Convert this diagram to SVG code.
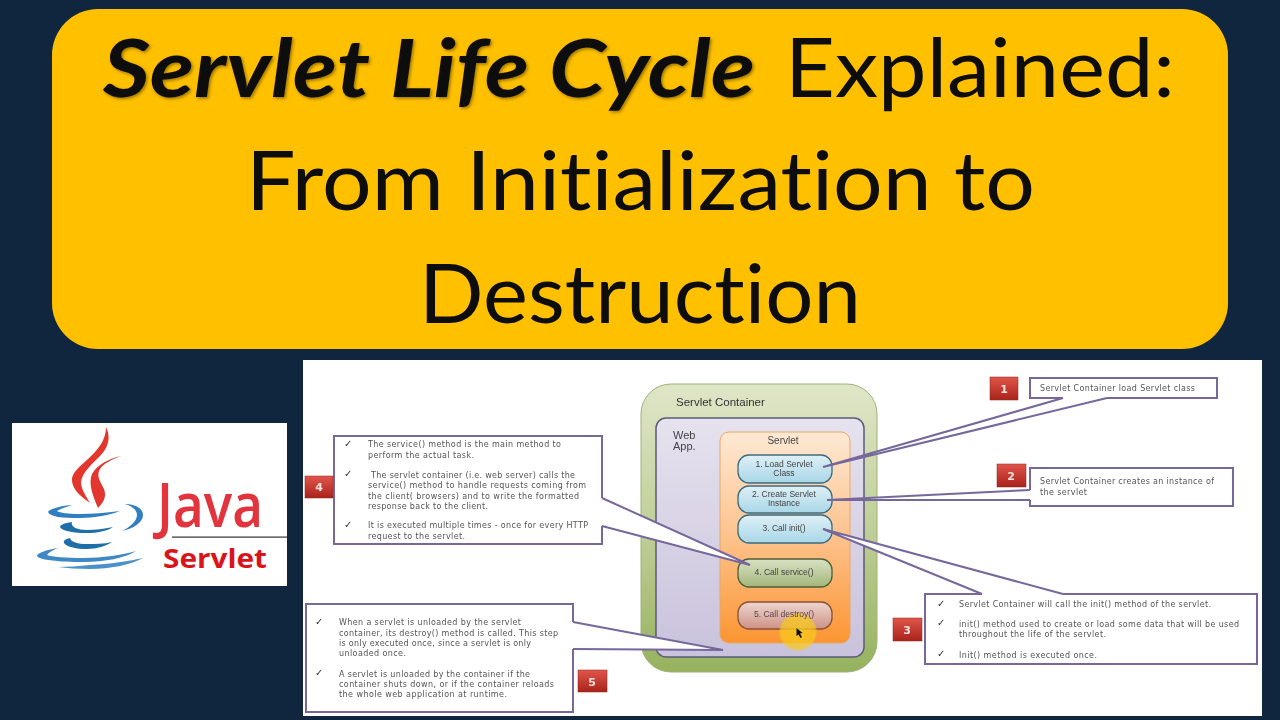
<svg xmlns="http://www.w3.org/2000/svg" width="1280" height="720" viewBox="0 0 1280 720">
<defs>
<linearGradient id="gO" x1="0" y1="0" x2="0" y2="1"><stop offset="0" stop-color="#dfe6c8"/><stop offset="0.5" stop-color="#c0cf98"/><stop offset="1" stop-color="#96b25e"/></linearGradient>
<linearGradient id="gW" x1="0" y1="0" x2="0" y2="1"><stop offset="0" stop-color="#e6e2ee"/><stop offset="1" stop-color="#c9c2dc"/></linearGradient>
<linearGradient id="gS" x1="0" y1="0" x2="0" y2="1"><stop offset="0" stop-color="#fde9d4"/><stop offset="0.5" stop-color="#fdc28c"/><stop offset="1" stop-color="#fb9532"/></linearGradient>
<linearGradient id="gB" x1="0" y1="0" x2="0" y2="1"><stop offset="0" stop-color="#dff0f6"/><stop offset="1" stop-color="#a8d6e8"/></linearGradient>
<linearGradient id="gG" x1="0" y1="0" x2="0" y2="1"><stop offset="0" stop-color="#d9e2c4"/><stop offset="1" stop-color="#a3b67a"/></linearGradient>
<linearGradient id="gR" x1="0" y1="0" x2="0" y2="1"><stop offset="0" stop-color="#eed6cf"/><stop offset="1" stop-color="#cd9184"/></linearGradient>
<linearGradient id="gBad" x1="0" y1="0" x2="0" y2="1"><stop offset="0" stop-color="#e0564a"/><stop offset="1" stop-color="#a9231c"/></linearGradient>
<radialGradient id="gH"><stop offset="0" stop-color="#f8c81e" stop-opacity="0.85"/><stop offset="0.88" stop-color="#f8c81e" stop-opacity="0.72"/><stop offset="1" stop-color="#f8c81e" stop-opacity="0.3"/></radialGradient>
<filter id="soft" x="-5%" y="-5%" width="110%" height="110%"><feGaussianBlur stdDeviation="0.35"/></filter>
<filter id="ts" x="-5%" y="-10%" width="110%" height="125%"><feDropShadow dx="1.500" dy="1.500" stdDeviation="1.500" flood-color="#000" flood-opacity="0.4"/></filter>
</defs>
<style>
.t{font-family:Lato,"Open Sans",sans-serif;font-size:81px;fill:#0d0d0d;font-variant-ligatures:none}
.d{font-family:"DejaVu Sans",sans-serif;font-size:8px;fill:#555}
.c{font-family:"DejaVu Sans",sans-serif;font-size:8px;fill:#555}
.k{font-family:"DejaVu Sans",sans-serif;font-size:10px;fill:#333}
.l{font-family:"Liberation Sans",Arial,sans-serif;fill:#444;font-size:8.5px;text-anchor:middle}
.box{fill:#fff;stroke:#77689c;stroke-width:2}
.gap{fill:#fff}
.tail{fill:none;stroke:#77689c;stroke-width:2;stroke-linejoin:miter}
.bad{fill:url(#gBad);stroke:#8f2a22;stroke-width:0.5}
.bt{font-family:"DejaVu Sans",sans-serif;font-size:11px;font-weight:bold;fill:#f3e2dc;text-anchor:middle}
.n{stroke-width:1.300;rx:11px;ry:11px}
</style>
<rect width="1280" height="720" fill="#10263f"/>
<g id="title">
<rect x="52" y="9" width="1176" height="340" rx="46" ry="46" fill="#ffc000"/>
<text class="t" x="103" y="97" font-weight="bold" font-style="italic" textLength="652" lengthAdjust="spacingAndGlyphs" filter="url(#ts)">Servlet Life Cycle</text>
<text class="t" x="785" y="97" textLength="390" lengthAdjust="spacingAndGlyphs">Explained:</text>
<text class="t" x="246" y="210" textLength="789" lengthAdjust="spacingAndGlyphs">From Initialization to</text>
<text class="t" x="419" y="323" textLength="442" lengthAdjust="spacingAndGlyphs">Destruction</text>
</g>
<g id="logo">
<rect x="12" y="423" width="275" height="163" fill="#fff"/>
<path d="M106 427C106 440 98 450 88 459C78 468 71 474 72 481C73 491 82 497 90 503C86 496 81 489 81 482C82 473 91 465 99 457C107 449 112 439 106 427Z" fill="#e2362e"/>
<path d="M121 456C108 459 97 465 92 474C88 484 93 496 98 508C103 503 107 497 104 489C100 481 96 476 100 469C104 463 113 459 121 456Z" fill="#e2362e"/>
<path d="M72 505C60 506 49 509 48 512C50 517 62 518 80 518C95 518 110 515 120 511C105 513 92 514 80 514C68 514 60 513 57 511C60 509 66 507 72 505Z" fill="#2f7fc1"/>
<path d="M125 504C136 504 143 509 143 515C143 523 132 529 122 531C130 527 137 521 137 515C137 510 132 506 125 504Z" fill="#2f7fc1"/>
<path d="M72 522C64 523 60 525 60 527C62 531 74 533 87 533C97 533 107 531 113 527C104 529 95 530 87 530C78 530 70 527 72 522Z" fill="#1e6fa8"/>
<path d="M70 538C65 539 63 541 64 543C67 547 77 549 87 549C97 549 106 546 112 542C104 544 95 544 87 544C78 544 71 542 70 538Z" fill="#1e6fa8"/>
<path d="M58 548C46 550 37 553 37 556C39 560 60 562 83 562C105 562 125 558 136 551C122 555 103 558 83 558C66 558 52 557 47 555C49 552 53 550 58 548Z" fill="#3f88c4"/>
<path d="M143 558C130 565 110 569 90 569C78 569 67 568 58 567C68 567 79 566 90 565C110 564 130 561 143 558Z" fill="#4b90c8"/>
<text x="157" y="527" font-family="'Open Sans',sans-serif" font-size="62" font-weight="600" fill="#e2343c" textLength="106" lengthAdjust="spacingAndGlyphs">Java</text>
<rect x="172" y="536.5" width="115" height="1.2" fill="#333"/>
<text x="163" y="568" font-family="'Open Sans',sans-serif" font-size="27" font-weight="bold" fill="#d9141b" textLength="104" lengthAdjust="spacingAndGlyphs">Servlet</text>
</g>
<rect id="panel" x="303" y="360" width="959" height="356" fill="#fff"/>
<g filter="url(#soft)">
<g id="servlet-container">
<rect x="641" y="384" width="236" height="288" rx="30" ry="30" fill="url(#gO)" stroke="#9db27a" stroke-width="1"/>
<text x="676" y="406" font-family="'Liberation Sans',sans-serif" font-size="11.500" fill="#333">Servlet Container</text>
</g>
<g id="web-app">
<rect x="656" y="418" width="208" height="239" rx="10" ry="10" fill="url(#gW)" stroke="#5b5a78" stroke-width="1.500"/>
<text x="673" y="439" font-family="'Liberation Sans',sans-serif" font-size="11" fill="#444">Web</text>
<text x="673" y="450" font-family="'Liberation Sans',sans-serif" font-size="11" fill="#444">App.</text>
</g>
<g id="servlet">
<rect x="720" y="432" width="130" height="211" rx="9" ry="9" fill="url(#gS)" stroke="#e8a869" stroke-width="1"/>
<text class="l" x="783" y="444" style="font-size:10px">Servlet</text>
</g>
<g id="step1">
<rect class="n" x="738" y="455" width="94" height="28" fill="url(#gB)" stroke="#3f6b7c"/>
<text class="l" x="784" y="467">1. Load Servlet</text><text class="l" x="784" y="476">Class</text>
</g>
<g id="step2">
<rect class="n" x="738" y="486" width="94" height="27" fill="url(#gB)" stroke="#3f6b7c"/>
<text class="l" x="784" y="497">2. Create Servlet</text><text class="l" x="784" y="506">Instance</text>
</g>
<g id="step3">
<rect class="n" x="738" y="515" width="94" height="28" fill="url(#gB)" stroke="#3f6b7c"/>
<text class="l" x="784" y="531">3. Call init()</text>
</g>
<g id="step4">
<rect class="n" x="738" y="559" width="94" height="28" fill="url(#gG)" stroke="#4f5f38"/>
<text class="l" x="784" y="575">4. Call service()</text>
</g>
<g id="step5">
<rect class="n" x="738" y="602" width="94" height="27" fill="url(#gR)" stroke="#8a5238"/>
</g>
<g id="pointer">
<circle cx="798" cy="632" r="19" fill="url(#gH)"/>
<text class="l" x="784" y="617" style="fill:#5a4450">5. Call destroy()</text>
<path d="M796.500 628L796.500 636L798.500 634.500L800.500 638L802 637L800 633.500L802.500 633Z" fill="#111"/>
</g>

<g id="callout1">
<rect class="box" x="1030" y="378" width="187" height="20"/>
<text class="c" x="1040" y="391" textLength="155">Servlet Container load  Servlet class</text>
</g>
<g id="badge1"><rect class="bad" x="990" y="377" width="28" height="23"/><text class="bt" x="1004" y="393">1</text></g>
<g id="callout2">
<rect class="box" x="1030" y="468" width="203" height="38"/>
<text class="c" x="1040" y="484" textLength="174">Servlet Container creates an instance of</text>
<text class="c" x="1040" y="495" textLength="47">the servlet</text>
</g>
<g id="badge2"><rect class="bad" x="997" y="464" width="29" height="23"/><text class="bt" x="1011" y="480">2</text></g>
<g id="callout3">
<rect class="box" x="925" y="594" width="332" height="70"/>
<text class="k" x="937" y="607">✓</text>
<text class="c" x="959" y="607" textLength="252">Servlet Container will call the init() method of the servlet.</text>
<text class="k" x="937" y="626">✓</text>
<text class="c" x="959" y="627" textLength="280">init() method used to create or load some data that will be used</text>
<text class="c" x="959" y="637" textLength="147">throughout the life of the servlet.</text>
<text class="k" x="937" y="657">✓</text>
<text class="c" x="959" y="658" textLength="138">Init() method is  executed once.</text>
</g>
<g id="badge3"><rect class="bad" x="893" y="618" width="29" height="23"/><text class="bt" x="907" y="634">3</text></g>
<g id="callout4">
<rect class="box" x="334" y="436" width="268" height="108"/>
<text class="k" x="344" y="447">✓</text>
<text class="d" x="368" y="447" textLength="193">The service() method is the main method to</text>
<text class="d" x="368" y="458" textLength="106">perform the actual  task.</text>
<text class="k" x="344" y="477">✓</text>
<text class="d" x="371" y="478" textLength="204">The servlet container (i.e. web server) calls the</text>
<text class="d" x="368" y="488" textLength="218">service() method to handle  requests coming from</text>
<text class="d" x="368" y="499" textLength="211">the client( browsers) and to write the formatted</text>
<text class="d" x="368" y="509" textLength="120">response back to the client.</text>
<text class="k" x="344" y="528">✓</text>
<text class="d" x="368" y="528" textLength="220">It is executed multiple  times - once for every HTTP</text>
<text class="d" x="368" y="539" textLength="97">request to the servlet.</text>
</g>
<g id="badge4"><rect class="bad" x="305" y="476" width="28" height="22"/><text class="bt" x="319" y="491">4</text></g>
<g id="callout5">
<rect class="box" x="306" y="604" width="267" height="108"/>
<text class="k" x="315" y="625">✓</text>
<text class="d" x="339" y="625" textLength="182">When a servlet is unloaded by the servlet</text>
<text class="d" x="339" y="636" textLength="219">container, its destroy() method is called.  This step</text>
<text class="d" x="339" y="646" textLength="192">is only executed once, since a servlet is only</text>
<text class="d" x="339" y="656" textLength="67">unloaded once.</text>
<text class="k" x="315" y="676">✓</text>
<text class="d" x="339" y="677" textLength="191">A servlet is unloaded by the container if the</text>
<text class="d" x="339" y="687" textLength="215">container  shuts down, or if the container reloads</text>
<text class="d" x="339" y="697" textLength="168">the whole web application  at runtime.</text>
</g>
<g id="badge5"><rect class="bad" x="578" y="670" width="29" height="22"/><text class="bt" x="592" y="686">5</text></g>

<g id="connectors">
<path class="gap" d="M1063 396L1107 396L1107 399L823 467L1063 399Z"/>
<path class="tail" d="M1063 398L823 467L1107 398"/>
<path class="gap" d="M1032 490L1032 500L1030 500L827 500L1030 490Z"/>
<path class="tail" d="M1030 490L827 500L1030 500"/>
<path class="gap" d="M982 596L1063 596L1063 594L823 529L982 594Z"/>
<path class="tail" d="M982 594L823 529L1063 594"/>
<path class="gap" d="M600 498L600 526L602 526L750 565L602 498Z"/>
<path class="tail" d="M602 498L750 565L602 526"/>
<path class="gap" d="M571 622L571 649L573 649L723 650L573 622Z"/>
<path class="tail" d="M573 622L723 650L573 649"/>
</g>
</g>
</svg>
